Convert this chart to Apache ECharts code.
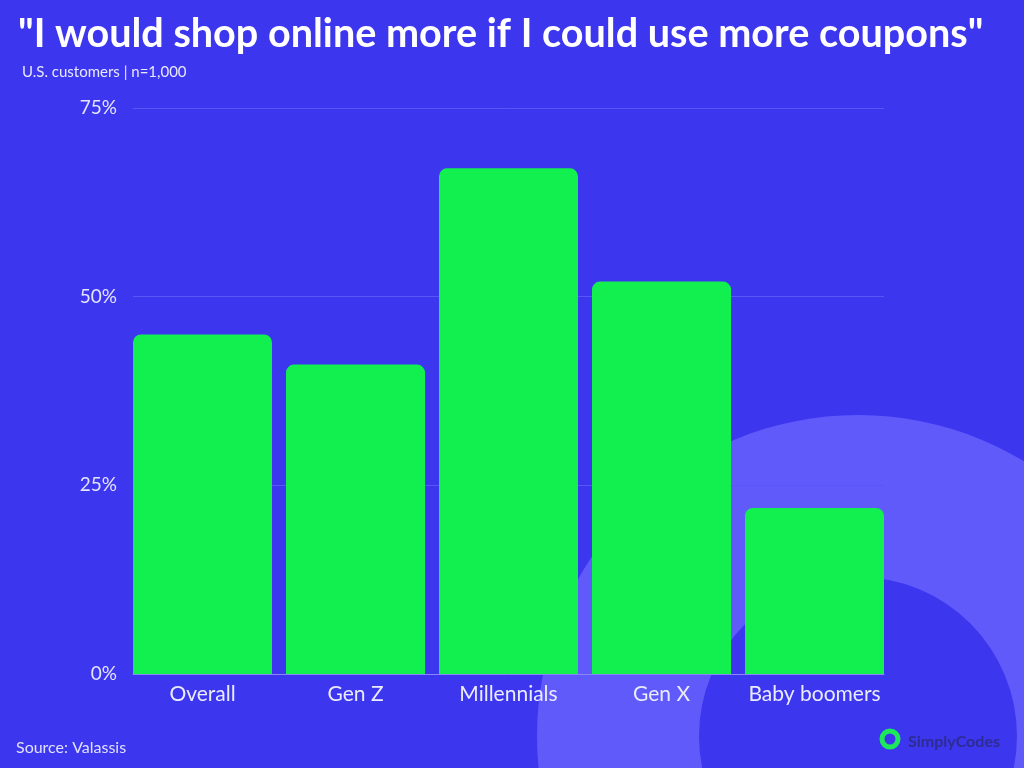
<!DOCTYPE html>
<html><head><meta charset="utf-8">
<script src="https://cdn.jsdelivr.net/npm/echarts@6/dist/echarts.min.js"></script>
<style>html,body{margin:0;padding:0;background:#3d36ef}#c{width:1024px;height:768px}</style>
</head><body><div id="c"></div>
<script>
const categories = ["Overall", "Gen Z", "Millennials", "Gen X", "Baby boomers"];
const values = [45, 41, 67, 52, 22];
const yTicks = [0, 25, 50, 75];

const FONT = "Lato";
const chart = echarts.init(document.getElementById('c'), null, {renderer: 'canvas'});
chart.setOption({
  backgroundColor: '#3d36ef',
  animation: false,
  title: [
    {text: '"I would shop online more if I could use more coupons"', left: 13, top: 9,
     textStyle: {color: '#ffffff', fontFamily: FONT, fontWeight: 'bold', fontSize: 39.6}},
    {text: 'U.S. customers | n=1,000', left: 17, top: 60,
     textStyle: {color: '#e8e8ff', fontFamily: FONT, fontWeight: 'normal', fontSize: 15}},
    {text: 'Source: Valassis', left: 11, top: 735,
     textStyle: {color: '#e0e0ff', fontFamily: FONT, fontWeight: 'normal', fontSize: 16}},
    {text: 'SimplyCodes', left: 903, top: 729,
     textStyle: {color: '#2d2c90', fontFamily: FONT, fontWeight: 'bold', fontSize: 16}}
  ],
  graphic: [
    {type: 'circle', z: -10, silent: true, shape: {cx: 858, cy: 736, r: 321}, style: {fill: '#605afb'}},
    {type: 'circle', z: -9, silent: true, shape: {cx: 858, cy: 736, r: 159}, style: {fill: '#3d36ef'}},
    {type: 'circle', z: 10, silent: true, shape: {cx: 890, cy: 739, r: 8}, style: {fill: 'none', stroke: '#1de85a', lineWidth: 5}}
  ],
  grid: [
    {left: 126, right: 133, top: 108, bottom: 94},
    {left: 133, right: 140, top: 108, bottom: 94}
  ],
  xAxis: [
    {type: 'category', gridIndex: 0, data: categories,
     axisLine: {show: false}, axisTick: {show: false},
     axisLabel: {interval: 0, hideOverlap: false, color: '#ebebff', fontFamily: FONT, fontSize: 21, margin: 10}},
    {type: 'value', gridIndex: 1, min: 0, max: 1, show: true,
     axisLine: {show: true, lineStyle: {color: '#8a86f7', width: 1}}, axisTick: {show: false},
     axisLabel: {show: false}, splitLine: {show: false}}
  ],
  yAxis: [
    {type: 'value', gridIndex: 0, min: 0, max: 75, interval: 25, show: false, splitLine: {show: false}},
    {type: 'value', gridIndex: 1, min: 0, max: 75, interval: 25,
     axisLine: {show: false}, axisTick: {show: false},
     axisLabel: {color: '#e4e4ff', fontFamily: FONT, fontSize: 19, margin: 16,
       formatter: v => yTicks.includes(v) ? v + '%' : ''},
     splitLine: {show: true, lineStyle: {color: '#5a55f6', width: 1}}}
  ],
  series: [{
    type: 'bar', xAxisIndex: 0, yAxisIndex: 0, data: values,
    barCategoryGap: '9.15%', z: 5,
    itemStyle: {color: '#12f04f', borderRadius: [8, 8, 0, 0]}
  }]
});
</script></body></html>
